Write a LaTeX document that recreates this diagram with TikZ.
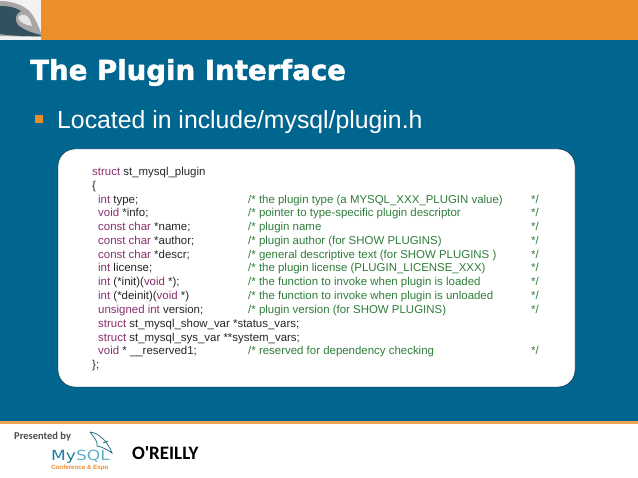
\documentclass[tikz,border=0pt]{standalone}
\usepackage{fontspec}
\setmainfont{Liberation Sans}
\newfontfamily\titlefont[BoldFeatures={FakeBold=1.6}]{DejaVu Sans}
\newfontfamily\logofont{Carlito}
\usepackage{tikz}
\usetikzlibrary{calc}

\definecolor{slideblue}{HTML}{00658F}
\definecolor{slideorange}{HTML}{EC8F2B}
\definecolor{kwpurple}{HTML}{8A2F6E}
\definecolor{cmtgreen}{HTML}{2F7D3A}
\definecolor{wavedark}{HTML}{33505F}
\definecolor{mysqlblue}{HTML}{1B7F9F}
\definecolor{mysqlsky}{HTML}{5FB2CC}
\newcommand{\kw}[1]{\textcolor{kwpurple}{#1}}

\tikzset{
  codeline/.style={anchor=base west, inner sep=0pt, font=\fontsize{11.45}{12}\selectfont, text=black!85},
  cmtline/.style={codeline, text=cmtgreen},
  footertext/.style={anchor=base west, inner sep=0pt},
}

\begin{document}
\begin{tikzpicture}[x=1pt,y=-1pt]
\useasboundingbox (0,0) rectangle (638,478);

% Background bands
\fill[white] (0,0) rectangle (638,478);
\fill[slideorange] (41,0) rectangle (638,40);
\fill[slideblue] (0,40) rectangle (638,421);
\fill[slideorange!80!white] (0,421) rectangle (638,424);

% Wave picture
\fill[black!5] (0,0) rectangle (41,40);
\fill[black!35] (0,1) .. controls (10,1) and (21,4) .. (28,10) .. controls (34,15) and (38,25) .. (41,33)
  -- (41,37) -- (0,36) -- cycle;
\fill[wavedark] (0,6) .. controls (8,6) and (15,7) .. (21,11) .. controls (15,14) and (14,20) .. (18,25)
  .. controls (24,30) and (32,33) .. (41,35) -- (41,36) .. controls (25,36) and (10,36) .. (0,34) -- cycle;
\fill[black!10] (18,18) .. controls (20,14) and (24,14) .. (27,16) .. controls (30,19) and (31,22) .. (32,26)
  .. controls (26,25) and (20,23) .. (18,18) -- cycle;

% Title and bullet
\node[anchor=base west, inner sep=0pt, text=white, font=\titlefont\bfseries\fontsize{27.6}{28}\selectfont] (title) at (30,80) {The Plugin Interface};
\fill[slideorange] (35,115) rectangle (43,123);
\node[anchor=base west, inner sep=0pt, text=white, font=\fontsize{24.8}{25}\selectfont] (located) at (57,129) {Located in include/mysql/plugin.h};

% Code box
\draw[fill=white, draw=black!70!slideblue, rounded corners=17pt] (58,149) rectangle (575,387);

% Code
\node[codeline] (l1) at (92,175.5) {\kw{struct} st\_mysql\_plugin};
\node[codeline] (l2) at (92,189.5) {\{};
\node[codeline] (l3) at (98,203.5) {\kw{int} type;};
\node[codeline] (l4) at (98,217) {\kw{void} *info;};
\node[codeline] (l5) at (98,231) {\kw{const char} *name;};
\node[codeline] (l6) at (98,245) {\kw{const char} *author;};
\node[codeline] (l7) at (98,258.5) {\kw{const char} *descr;};
\node[codeline] (l8) at (98,272) {\kw{int} license;};
\node[codeline] (l9) at (98,286) {\kw{int} (*init)(\kw{void} *);};
\node[codeline] (l10) at (98,300) {\kw{int} (*deinit)(\kw{void} *)};
\node[codeline] (l11) at (98,314) {\kw{unsigned int} version;};
\node[codeline] (l12) at (98,328) {\kw{struct} st\_mysql\_show\_var *status\_vars;};
\node[codeline] (l13) at (98,341.5) {\kw{struct} st\_mysql\_sys\_var **system\_vars;};
\node[codeline] (l14) at (98,355) {\kw{void} * \_\_reserved1;};
\node[codeline] (l15) at (92,369) {\};};

% Comments
\node[cmtline] (c3) at (248,203.5) {/* the plugin type (a MYSQL\_XXX\_PLUGIN value)};
\node[cmtline] (c4) at (248,217) {/* pointer to type-specific plugin descriptor};
\node[cmtline] (c5) at (248,231) {/* plugin name};
\node[cmtline] (c6) at (248,245) {/* plugin author (for SHOW PLUGINS)};
\node[cmtline] (c7) at (248,258.5) {/* general descriptive text (for SHOW PLUGINS )};
\node[cmtline] (c8) at (248,272) {/* the plugin license (PLUGIN\_LICENSE\_XXX)};
\node[cmtline] (c9) at (248,286) {/* the function to invoke when plugin is loaded};
\node[cmtline] (c10) at (248,300) {/* the function to invoke when plugin is unloaded};
\node[cmtline] (c11) at (248,314) {/* plugin version (for SHOW PLUGINS)};
\node[cmtline] (c14) at (248,355) {/* reserved for dependency checking};

% Comment ends
\node[cmtline] (e3) at (531,203.5) {*/};
\node[cmtline] (e4) at (531,217) {*/};
\node[cmtline] (e5) at (531,231) {*/};
\node[cmtline] (e6) at (531,245) {*/};
\node[cmtline] (e7) at (531,258.5) {*/};
\node[cmtline] (e8) at (531,272) {*/};
\node[cmtline] (e9) at (531,286) {*/};
\node[cmtline] (e10) at (531,300) {*/};
\node[cmtline] (e11) at (531,314) {*/};
\node[cmtline] (e14) at (531,355) {*/};

% Footer
\node[footertext, text=black!70, font=\logofont\bfseries\fontsize{10.5}{11}\selectfont] (presented) at (14,440) {Presented by};
\node[footertext, text=mysqlblue, font=\titlefont\fontsize{14}{14}\selectfont, xscale=1.22, transform shape] (mysql) at (51,461) {My\textcolor{mysqlsky}{SQL}};
\node[footertext, text=slideorange, font=\bfseries\fontsize{6.2}{6.2}\selectfont] (conf) at (51,470) {Conference \& Expo};
\node[footertext, text=black, font=\logofont\bfseries\fontsize{19}{19}\selectfont] (oreilly) at (132,459.5) {O'REILLY};

% Dolphin
\draw[mysqlblue!80!black, line width=0.7pt] (90,432) .. controls (98,433) and (107,440) .. (112,453)
  .. controls (106,449) and (102,447) .. (97,446) .. controls (98,441) and (94,438) .. (90,432);
\draw[mysqlblue!80!black, line width=0.7pt] (103,443) -- (108,441);

\end{tikzpicture}
\end{document}
